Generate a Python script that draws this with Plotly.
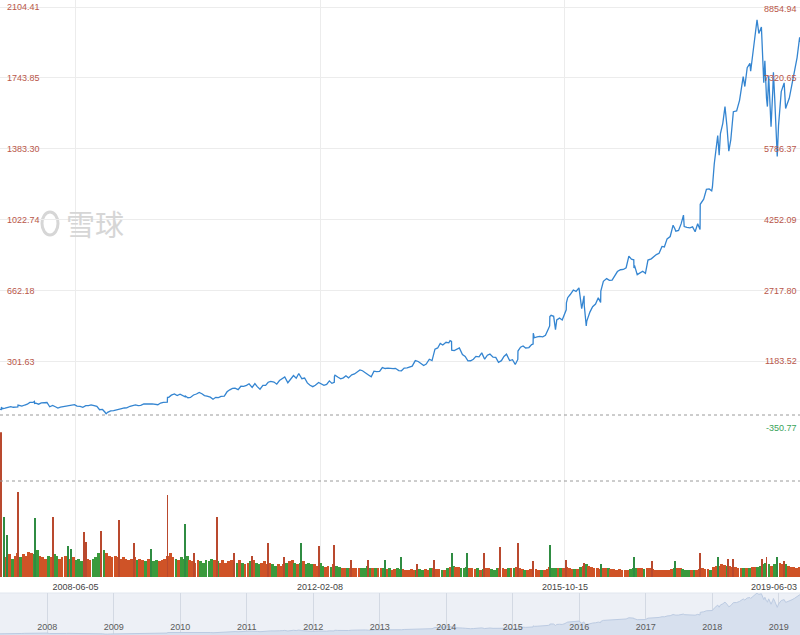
import numpy as np
import pandas as pd
import plotly.graph_objects as go

# ---------------- data ----------------
price_dates = [
    "2007-04-17", "2007-04-24", "2007-04-25", "2007-04-30", "2007-05-15", "2007-05-31", "2007-06-15", "2007-06-29",
    "2007-07-16", "2007-07-24", "2007-07-25", "2007-07-31", "2007-08-15", "2007-08-31", "2007-09-14", "2007-09-28",
    "2007-10-15", "2007-10-23", "2007-10-24", "2007-10-31", "2007-11-15", "2007-11-30", "2007-12-14", "2007-12-31",
    "2008-01-15", "2008-01-31", "2008-02-15", "2008-02-29", "2008-03-14", "2008-03-31", "2008-04-15", "2008-04-30",
    "2008-05-15", "2008-05-30", "2008-06-13", "2008-06-30", "2008-07-15", "2008-07-31", "2008-08-15", "2008-08-29",
    "2008-09-15", "2008-09-30", "2008-10-15", "2008-10-31", "2008-11-14", "2008-11-20", "2008-11-28", "2008-12-15",
    "2008-12-31",
    "2009-01-15", "2009-01-30", "2009-02-13", "2009-02-27", "2009-03-13", "2009-03-31", "2009-04-15", "2009-04-30",
    "2009-05-15", "2009-05-29", "2009-06-15", "2009-06-30", "2009-07-15", "2009-07-31", "2009-08-14", "2009-08-31",
    "2009-09-15", "2009-09-30", "2009-10-22", "2009-10-23", "2009-10-30", "2009-11-13", "2009-11-30", "2009-12-15",
    "2009-12-31",
    "2010-01-15", "2010-01-28", "2010-01-29", "2010-02-12", "2010-02-26", "2010-03-15", "2010-03-31", "2010-04-15",
    "2010-04-30", "2010-05-14", "2010-05-28", "2010-06-15", "2010-06-30", "2010-07-15", "2010-07-30", "2010-08-13",
    "2010-08-31", "2010-09-15", "2010-09-30", "2010-10-15", "2010-10-29", "2010-11-15", "2010-11-30", "2010-12-15",
    "2010-12-31",
    "2011-01-14", "2011-01-31", "2011-02-15", "2011-02-28", "2011-03-15", "2011-03-31", "2011-04-15", "2011-04-29",
    "2011-05-13", "2011-05-31", "2011-06-15", "2011-06-30", "2011-07-15", "2011-07-29", "2011-08-15", "2011-08-31",
    "2011-09-15", "2011-09-30", "2011-10-14", "2011-10-31", "2011-11-15", "2011-11-30", "2011-12-15", "2011-12-30",
    "2012-01-13", "2012-01-31", "2012-02-15", "2012-02-29", "2012-03-15", "2012-03-30", "2012-04-13", "2012-04-26",
    "2012-04-27", "2012-04-30", "2012-05-15", "2012-05-31", "2012-06-15", "2012-06-29", "2012-07-13", "2012-07-31",
    "2012-08-15", "2012-08-31", "2012-09-14", "2012-09-28", "2012-10-15", "2012-10-31", "2012-11-15", "2012-11-30",
    "2012-12-14", "2012-12-31",
    "2013-01-15", "2013-01-31", "2013-02-15", "2013-02-28", "2013-03-15", "2013-03-28", "2013-04-15", "2013-04-30",
    "2013-05-15", "2013-05-31", "2013-06-14", "2013-06-28", "2013-07-15", "2013-07-31", "2013-08-15", "2013-08-30",
    "2013-09-13", "2013-09-30", "2013-10-15", "2013-10-31", "2013-11-15", "2013-11-29", "2013-12-13", "2013-12-31",
    "2014-01-15", "2014-01-22", "2014-01-30", "2014-01-31", "2014-02-14", "2014-02-28", "2014-03-14", "2014-03-31",
    "2014-04-15", "2014-04-30", "2014-05-15", "2014-05-30", "2014-06-13", "2014-06-30", "2014-07-15", "2014-07-31",
    "2014-08-15", "2014-08-29", "2014-09-15", "2014-09-30", "2014-10-15", "2014-10-31", "2014-11-14", "2014-11-28",
    "2014-12-15", "2014-12-31",
    "2015-01-15", "2015-01-29", "2015-01-30", "2015-02-13", "2015-02-27", "2015-03-13", "2015-03-31", "2015-04-15",
    "2015-04-23", "2015-04-24", "2015-04-30", "2015-05-15", "2015-05-29", "2015-06-15", "2015-06-30", "2015-07-15",
    "2015-07-23", "2015-07-24", "2015-07-31", "2015-08-14", "2015-08-24", "2015-08-31", "2015-09-15", "2015-09-30",
    "2015-10-15", "2015-10-22", "2015-10-23", "2015-10-30", "2015-11-13", "2015-11-30", "2015-12-15", "2015-12-31",
    "2016-01-15", "2016-01-28", "2016-01-29", "2016-02-09", "2016-02-12", "2016-02-29", "2016-03-15", "2016-03-31",
    "2016-04-15", "2016-04-28", "2016-04-29", "2016-05-13", "2016-05-31", "2016-06-15", "2016-06-30", "2016-07-15",
    "2016-07-29", "2016-08-15", "2016-08-31", "2016-09-15", "2016-09-30", "2016-10-14", "2016-10-27", "2016-10-28",
    "2016-10-31", "2016-11-15", "2016-11-30", "2016-12-15", "2016-12-30",
    "2017-01-13", "2017-01-31", "2017-02-15", "2017-02-28", "2017-03-15", "2017-03-31", "2017-04-13", "2017-04-27",
    "2017-04-28", "2017-05-15", "2017-05-31", "2017-06-09", "2017-06-15", "2017-06-30", "2017-07-14", "2017-07-27",
    "2017-07-28", "2017-07-31", "2017-08-15", "2017-08-31", "2017-09-15", "2017-09-29", "2017-10-13", "2017-10-26",
    "2017-10-27", "2017-10-31", "2017-11-15", "2017-11-30", "2017-12-15", "2017-12-29",
    "2018-01-02", "2018-01-12", "2018-01-26", "2018-01-31", "2018-02-08", "2018-02-15", "2018-02-28", "2018-03-12",
    "2018-03-23", "2018-04-02", "2018-04-13", "2018-04-27", "2018-05-15", "2018-05-31", "2018-06-20", "2018-06-29",
    "2018-07-12", "2018-07-27", "2018-07-31", "2018-08-15", "2018-08-31", "2018-09-04", "2018-09-14", "2018-09-28",
    "2018-10-11", "2018-10-17", "2018-10-26", "2018-10-31", "2018-11-07", "2018-11-20", "2018-11-30", "2018-12-03",
    "2018-12-10", "2018-12-24", "2018-12-31",
    "2019-01-15", "2019-01-31", "2019-02-08", "2019-02-15", "2019-02-28", "2019-03-15", "2019-03-29", "2019-04-12",
    "2019-04-26", "2019-04-30", "2019-05-03",
]
price_close = [
    58, 57, 69, 61.3, 64, 69.1, 72, 68.4, 72, 70, 79, 78.5, 74, 79.9, 84, 93.2,
    93, 98, 88, 89.2, 84, 90.6, 91, 92.6,
    71, 77.7, 71, 64.5, 69, 71.3, 75, 78.6, 79, 81.6, 74, 73.3, 68, 76.3, 77, 80.8,
    77, 72.8, 56, 57.2, 43, 35, 42.7, 50, 51.3,
    56, 58.8, 62, 64.8, 65, 73.4, 77, 80.5, 77, 77.9, 85, 83.7, 85, 85.8, 84, 81.2,
    90, 93.4, 94, 118.5, 118.8, 130, 135.9, 128, 134.5,
    127, 122, 125.4, 117, 118.4, 131, 135.8, 144, 137.1, 128, 125.5, 120, 109.3, 119, 117.9, 124,
    124.8, 147, 157.1, 164, 165.2, 158, 175.4, 175, 180,
    188, 169.6, 189, 173.3, 160, 180.1, 180, 195.8, 200, 196.7, 186, 204.5, 212, 222.5, 193, 215.2,
    230, 216.2, 240, 213.5, 217, 192.3, 180, 173.1,
    180, 194.4, 185, 179.7, 185, 202.5, 190, 195, 226.9, 231.9, 222, 212.9, 218, 228.4, 218, 233.3,
    238, 248.3, 258, 254.3, 245, 232.9, 223, 252.1, 250, 250.9,
    270, 265.5, 267, 264.3, 265, 266.5, 255, 253.8, 268, 269.2, 275, 277.7, 306, 301.2, 291, 280.9,
    288, 312.6, 306, 364, 370, 393.6, 385, 398.8,
    396, 407, 403, 358.7, 357, 362.1, 370, 336.4, 327, 304.1, 305, 312.6, 327, 324.8, 345, 313,
    333, 339, 323, 322.4, 297, 305.5, 327, 338.6, 306, 310.4,
    286, 311.8, 354.5, 374, 380.2, 370, 372.1, 387, 389.9, 445.1, 421.8, 426, 429.2, 427, 434.1, 465,
    482.2, 529.4, 536.2, 531, 463, 512.9, 522, 511.9, 555, 563.9, 599, 625.9, 642, 664.8, 658, 675.9,
    570, 635.4, 587, 482, 507, 552.5, 580, 593.6, 625, 602, 659.6, 709, 722.8, 714, 715.6, 735,
    758.8, 768, 769.2, 778, 837.3, 822, 818.4, 776.3, 789.8, 743, 750.6, 760, 749.9,
    817, 823.5, 836, 845, 852, 886.5, 884, 918.4, 925, 937, 994.6, 978, 964, 968, 1001, 1046,
    1020, 987.8, 983, 980.6, 986, 961.4, 1002, 972.4, 1100.9, 1105.3, 1127, 1176.8, 1179, 1169.5,
    1189, 1306, 1402, 1450.9, 1350, 1461, 1512.5, 1598, 1495, 1371, 1430, 1572, 1576, 1629.6, 1750, 1699.8,
    1796, 1818, 1777.4, 1882, 2012.7, 2039.5, 1970, 2003, 1719, 1831, 1642, 1598, 1755, 1495, 1690, 1772,
    1642, 1344, 1501,
    1674, 1718.7, 1588, 1607, 1639.8, 1712, 1780.8, 1847, 1950.6, 1926.5, 1962,
]

left_ticks = [2104.41, 1743.85, 1383.30, 1022.74, 662.18, 301.63, -58.93]
left_labels = ["2104.41", "1743.85", "1383.30", "1022.74", "662.18", "301.63", ""]
right_ticks = [8854.94, 7320.65, 5786.37, 4252.09, 2717.80, 1183.52, -350.77]
right_labels = ["8854.94", "7320.65", "5786.37", "4252.09", "2717.80", "1183.52", "-350.77"]

date_ticks = ["2008-06-05", "2012-02-08", "2015-10-15"]
last_date_label = "2019-06-03"
year_ticks = ["2008", "2009", "2010", "2011", "2012", "2013", "2014", "2015", "2016", "2017", "2018", "2019"]

# half-month volume (millions of shares), 2007-04-15 .. 2019-04-15
vol_base = [
    18, 15, 14, 16, 13, 15, 17, 14, 16, 15, 18, 17, 16, 19, 15, 14, 13,                              # 2007
    15, 14, 16, 15, 13, 14, 15, 12, 13, 14, 12, 13, 11, 12, 13, 12, 13, 14, 17, 20, 19, 17, 15, 14,  # 2008
    15, 14, 13, 14, 13, 12, 13, 14, 12, 13, 12, 11, 13, 12, 11, 12, 11, 12, 13, 15, 17, 14, 13, 12,  # 2009
    14, 13, 15, 12, 11, 10, 12, 11, 10, 12, 11, 13, 12, 11, 10, 12, 10, 11, 12, 11, 10, 12, 10, 9,   # 2010
    10, 11, 12, 10, 9, 10, 11, 9, 10, 9, 8, 9, 8, 9, 10, 11, 12, 10, 9, 10, 11, 9, 10, 9,            # 2011
    9, 8, 10, 8, 7, 8, 7, 9, 8, 7, 6.5, 6, 6, 6.5, 6, 6, 6.5, 6, 6.5, 7.5, 6.5, 6, 6, 6,             # 2012
    6, 6, 5.5, 6, 5, 5.5, 6, 5.5, 5.5, 5, 5, 5.5, 5, 5, 5.5, 5, 5.5, 5, 6, 6.5, 5.5, 5.5, 5, 5,      # 2013
    6, 7, 8, 7, 7, 6.5, 6, 7, 6, 6, 5.5, 6, 5, 5.5, 6, 6, 5.5, 5, 6, 6.5, 6, 5.5, 6, 6,              # 2014
    6, 7, 6, 5.5, 5, 5, 5.5, 6, 5.5, 5, 5, 5, 5.5, 7, 6.5, 6, 6, 6.5, 6, 7, 6, 5.5, 5.5, 5.5,        # 2015
    7, 8, 9, 8, 7, 6.5, 6, 5.5, 6, 6.5, 6, 5.5, 5.5, 5, 5.5, 5, 5, 5, 5.5, 6, 6.5, 6, 6, 5.5,        # 2016
    6, 6, 5.5, 5, 5, 5, 5, 4.8, 5, 5.5, 6, 6.5, 6, 5.5, 5, 5, 5, 5, 5, 5.5, 6, 5.5, 5.5, 5,          # 2017
    7, 7.5, 8, 9, 8.5, 8, 8, 7, 7, 6, 6, 6, 6, 6.5, 7, 7, 7, 8, 9, 10, 9, 8, 9, 10,                  # 2018
    10, 9, 9, 8, 7, 7, 6.5, 7,                                                                       # 2019
]

spike_dates = [
    "2007-04-25", "2007-05-11", "2007-05-25", "2007-07-25", "2007-10-24", "2008-01-31", "2008-04-24", "2008-05-12",
    "2008-07-24", "2008-08-04", "2008-10-23", "2009-01-30", "2009-04-24", "2009-07-24", "2009-10-23", "2010-01-29",
    "2010-03-18", "2010-07-23", "2010-10-22", "2011-01-28", "2011-04-27", "2011-07-27", "2011-10-26", "2012-02-01",
    "2012-04-27", "2012-07-27", "2012-10-26", "2013-01-30", "2013-04-26", "2013-07-26", "2013-10-25", "2014-01-31",
    "2014-04-25", "2014-07-25", "2014-10-24", "2015-01-30", "2015-04-24", "2015-07-24", "2015-10-23", "2016-01-29",
    "2016-04-29", "2016-10-28", "2017-02-03", "2017-06-09", "2017-10-27", "2018-02-02", "2018-03-28", "2018-04-27",
    "2018-10-01", "2018-10-26", "2018-12-24", "2019-02-01",
]
spike_vol = [
    104, 43, 30, 61, 42, 43, 22, 20, 32, 25, 33, 41, 24, 20, 59, 38,
    17, 43, 17, 15, 24, 14, 24, 22, 23, 12, 12, 12, 14, 9, 12, 17,
    17, 17, 21, 24, 11, 23, 12, 10, 9, 14, 11, 11, 17, 14, 13, 13,
    13, 14, 14, 11,
]
spike_up = [
    1, 0, 0, 1, 0, 1, 0, 0, 1, 1, 1, 1, 1, 0, 1, 0,
    1, 1, 1, 1, 1, 1, 0, 1, 1, 1, 1, 0, 0, 1, 1, 0,
    0, 1, 1, 1, 1, 0, 1, 1, 0, 0, 1, 0, 1, 0, 1, 1,
    1, 1, 0, 1,
]

# ---------------- styling / geometry ----------------
W, H = 800, 635
FONT = "Liberation Sans, Arial, sans-serif"
UP, DOWN = "#cf5327", "#3a9a3c"
SPIKE_UP, SPIKE_DOWN = "#b9492e", "#2f8c42"
LABEL_RED = "#b9574a"
LINE_BLUE = "#3485d1"


def py(px):
    return 1 - px / H


X_RANGE = ["2007-04-17", "2019-04-28"]

# price axis: gridline of first tick at 7px, last tick at 432.3px
top_px, bot_px = 7.0, 432.3
k = (left_ticks[0] - left_ticks[-1]) / (bot_px - top_px)
y_lo = left_ticks[-1]
y_hi = left_ticks[-1] + bot_px * k
b = (right_ticks[0] - right_ticks[-1]) / (left_ticks[0] - left_ticks[-1])
a = right_ticks[-1] - b * left_ticks[-1]
y2_range = [a + b * y_lo, a + b * y_hi]

# volume bars
n = min(len(vol_base), 289)
starts = pd.date_range("2007-04-15", "2019-04-15", freq="SMS")[:n]
ends = starts + pd.Timedelta(days=15)
pt = pd.to_datetime(price_dates).astype("int64").to_numpy()
pv = np.array(price_close, dtype=float)
p_start = np.interp(starts.astype("int64").to_numpy(), pt, pv)
p_end = np.interp(ends.astype("int64").to_numpy(), pt, pv)
base_colors = [UP if e >= s else DOWN for s, e in zip(p_start, p_end)]
base_centers = starts + pd.Timedelta(days=7.6)
DAY_MS = 86400000
spike_colors = [SPIKE_UP if u else SPIKE_DOWN for u in spike_up]

fig = go.Figure()

# navigator area
fig.add_trace(go.Scatter(
    x=price_dates, y=price_close, xaxis="x3", yaxis="y4", mode="lines",
    line=dict(color="#bccbe2", width=1), fill="tozeroy", fillcolor="#d7e0ee",
    hoverinfo="skip", showlegend=False))

# volume
fig.add_trace(go.Bar(
    x=base_centers, y=vol_base[:n], xaxis="x2", yaxis="y3",
    width=[15.4 * DAY_MS] * n, marker=dict(color=base_colors, line=dict(width=0)),
    hoverinfo="skip", showlegend=False))
fig.add_trace(go.Bar(
    x=spike_dates, y=spike_vol, xaxis="x2", yaxis="y3",
    width=[5.5 * DAY_MS] * len(spike_dates), marker=dict(color=spike_colors, line=dict(width=0)),
    hoverinfo="skip", showlegend=False))

# price line
fig.add_trace(go.Scatter(
    x=price_dates, y=price_close, xaxis="x", yaxis="y", mode="lines",
    line=dict(color=LINE_BLUE, width=1.3), hoverinfo="skip", showlegend=False))
# invisible anchor for right-hand scale
fig.add_trace(go.Scatter(
    x=[price_dates[0]], y=[right_ticks[-1]], xaxis="x", yaxis="y2", mode="markers",
    marker=dict(opacity=0), hoverinfo="skip", showlegend=False))

grid = "#ececec"
fig.update_layout(
    width=W, height=H, autosize=False,
    margin=dict(l=0, r=0, t=0, b=0),
    paper_bgcolor="white", plot_bgcolor="rgba(0,0,0,0)",
    font=dict(family=FONT, size=9, color="#444"),
    barmode="overlay", bargap=0, hovermode=False, showlegend=False,
    xaxis=dict(domain=[0, 1], anchor="y", type="date", range=X_RANGE,
               tickvals=date_ticks, showticklabels=False, showgrid=True, gridcolor=grid,
               zeroline=False, showline=False, ticks=""),
    yaxis=dict(domain=[py(bot_px), 1], range=[y_lo, y_hi], tickvals=left_ticks, ticktext=left_labels,
               ticklabelposition="inside", ticklabelstandoff=4, showgrid=True, gridcolor=grid,
               zeroline=False, showline=False, ticks="",
               tickfont=dict(family=FONT, size=9, color=LABEL_RED)),
    yaxis2=dict(overlaying="y", side="right", range=y2_range, showgrid=False, zeroline=False,
                showticklabels=False, showline=False, ticks=""),
    xaxis2=dict(domain=[0, 1], anchor="y3", type="date", range=X_RANGE,
                tickvals=date_ticks, ticktext=date_ticks, showgrid=True, gridcolor=grid,
                zeroline=False, showline=False, ticks="", ticklabelstandoff=3,
                tickfont=dict(family=FONT, size=9, color="#444")),
    yaxis3=dict(domain=[py(577), py(bot_px)], range=[0, 104], showgrid=False, zeroline=False,
                showticklabels=False, showline=False, ticks=""),
    xaxis3=dict(domain=[0, 1], anchor="y4", type="date", range=X_RANGE,
                tickvals=[y + "-01-01" for y in year_ticks], ticktext=year_ticks,
                ticklabelposition="inside", showgrid=True, gridcolor="#d3d9e3",
                zeroline=False, showline=False, ticks="",
                tickfont=dict(family=FONT, size=9, color="#5a5a5a")),
    yaxis4=dict(domain=[0, py(593)], range=[0, max(price_close)], showgrid=False, zeroline=False,
                showticklabels=False, showline=False, ticks=""),
)

shapes = [
    dict(type="rect", xref="paper", yref="paper", x0=0, x1=1, y0=0, y1=py(593),
         fillcolor="#edf0f6", line=dict(width=0), layer="below"),
    dict(type="line", xref="paper", yref="paper", x0=0, x1=1, y0=py(593), y1=py(593),
         line=dict(color="#e1e6ee", width=1), layer="below"),
    dict(type="line", xref="paper", yref="paper", x0=0, x1=1, y0=py(415), y1=py(415),
         line=dict(color="#9a9a9a", width=1, dash="dot")),
    dict(type="line", xref="paper", yref="paper", x0=0, x1=1, y0=py(481), y1=py(481),
         line=dict(color="#9a9a9a", width=1, dash="dot")),
    dict(type="circle", xref="paper", yref="paper", x0=42 / W, x1=58 / W, y0=py(235), y1=py(212),
         line=dict(color="#d6d6d6", width=3), layer="below"),
]
fig.update_layout(shapes=shapes)

ann = []
for v, t in zip(right_ticks, right_labels):
    col = "#3aa35a" if v < 0 else LABEL_RED
    shift = 4 if v < 0 else (-2 if v == right_ticks[0] else 0)
    ann.append(dict(xref="paper", yref="y2", x=1.0, y=v, text=t, showarrow=False,
                    xanchor="right", yanchor="middle", yshift=shift, xshift=-1,
                    font=dict(family=FONT, size=9, color=col)))
ann.append(dict(xref="paper", yref="paper", x=1.0, y=py(587), text=last_date_label,
                showarrow=False, xanchor="right", yanchor="middle", xshift=-1,
                font=dict(family=FONT, size=9, color="#444")))
ann.append(dict(xref="paper", yref="paper", x=95 / W, y=py(223), text="雪球", showarrow=False,
                xanchor="center", yanchor="middle",
                font=dict(family="Noto Sans CJK SC", size=29, color="#d6d6d6")))
fig.update_layout(annotations=ann)

fig.write_html("out.html", config={"displayModeBar": False})
